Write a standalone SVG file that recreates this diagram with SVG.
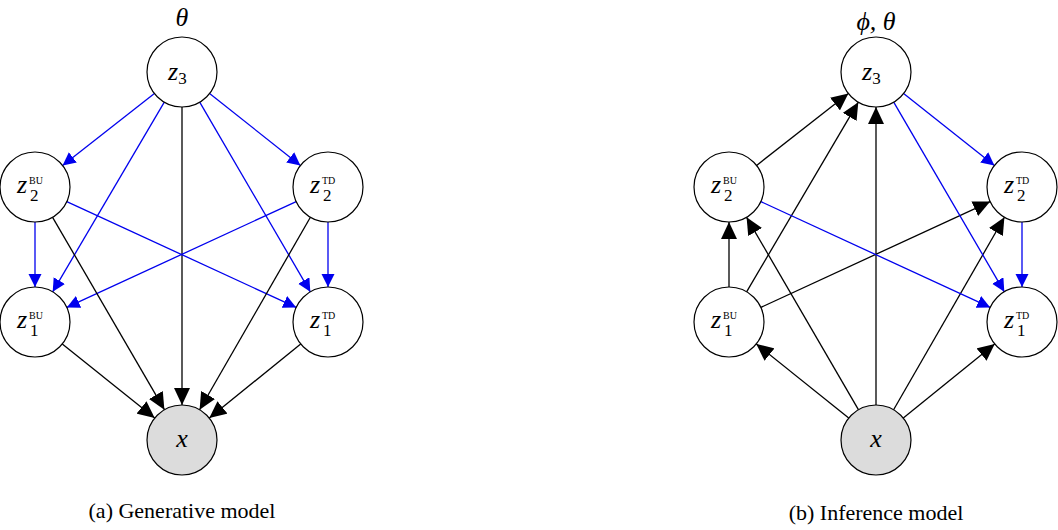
<svg xmlns="http://www.w3.org/2000/svg" width="1058" height="530" viewBox="0 0 1058 530">
<style>
.n{fill:#fff;stroke:#000;stroke-width:1.2}
.g{fill:#dcdcdc;stroke:#000;stroke-width:1.2}
.t{font-family:"Liberation Serif","DejaVu Serif",serif;font-style:italic;font-size:26px}
.s{font-family:"Liberation Serif",serif;font-size:17px;font-style:normal}
.u{font-family:"Liberation Serif",serif;font-size:10px;font-style:normal}
.cap{font-family:"Liberation Serif",serif;font-size:22px}
.k{stroke:#000;stroke-width:1.3;fill:none;marker-end:url(#ak)}
.b{stroke:#0000ee;stroke-width:1.3;fill:none;marker-end:url(#ab)}
</style>
<defs>
<marker id="ak" markerUnits="userSpaceOnUse" markerWidth="18" markerHeight="16" refX="17" refY="8" orient="auto"><path d="M0,0 L17,8 L0,16 z" fill="#000"/></marker>
<marker id="ab" markerUnits="userSpaceOnUse" markerWidth="14" markerHeight="14" refX="13" refY="6.5" orient="auto"><path d="M0,0 L13,6.5 L0,13 z" fill="#0000ee"/></marker>
</defs>
<g id="connectors">
<line class="b" x1="154.4" y1="93.6" x2="62.6" y2="165.4"/>
<line class="b" x1="209.6" y1="93.6" x2="300.4" y2="165.4"/>
<line class="b" x1="164.3" y1="102.2" x2="52.7" y2="291.8"/>
<line class="b" x1="199.7" y1="102.2" x2="310.3" y2="291.8"/>
<line class="k" x1="182" y1="107" x2="182" y2="405"/>
<line class="b" x1="35" y1="222" x2="35" y2="287"/>
<line class="b" x1="328" y1="222" x2="328" y2="287"/>
<line class="b" x1="66.8" y1="201.6" x2="296.2" y2="307.4"/>
<line class="b" x1="296.2" y1="201.6" x2="66.8" y2="307.4"/>
<line class="k" x1="52.6" y1="217.3" x2="164.4" y2="409.7"/>
<line class="k" x1="310.4" y1="217.3" x2="199.6" y2="409.7"/>
<line class="k" x1="62.3" y1="343.9" x2="154.7" y2="418.1"/>
<line class="k" x1="300.7" y1="343.9" x2="209.3" y2="418.1"/>
<line class="k" x1="848.7" y1="418.1" x2="756.3" y2="343.9"/>
<line class="k" x1="858.4" y1="409.7" x2="746.6" y2="217.3"/>
<line class="k" x1="876" y1="405" x2="876" y2="107"/>
<line class="k" x1="893.6" y1="409.7" x2="1004.4" y2="217.3"/>
<line class="k" x1="903.3" y1="418.1" x2="994.7" y2="343.9"/>
<line class="k" x1="729" y1="287" x2="729" y2="222"/>
<line class="k" x1="746.6" y1="291.8" x2="858.3" y2="102.2"/>
<line class="k" x1="760.8" y1="307.4" x2="990.2" y2="201.6"/>
<line class="k" x1="756.6" y1="165.4" x2="848.4" y2="93.6"/>
<line class="b" x1="903.6" y1="93.6" x2="994.4" y2="165.4"/>
<line class="b" x1="893.7" y1="102.2" x2="1004.3" y2="291.8"/>
<line class="b" x1="1022" y1="222" x2="1022" y2="287"/>
<line class="b" x1="760.8" y1="201.6" x2="990.2" y2="307.4"/>
</g>
<text class="t" x="182" y="26" text-anchor="middle">θ</text>
<text class="t" x="876" y="30" text-anchor="middle">ϕ, θ</text>
<g id="a_z3"><circle class="n" cx="182" cy="72" r="35"/><text class="t" x="168" y="80">z<tspan class="s" dy="4">3</tspan></text></g>
<g id="a_z2bu"><circle class="n" cx="35" cy="187" r="35"/><text class="t" x="17" y="193">z</text><text class="s" x="30" y="201">2</text><text class="u" x="29" y="184">BU</text></g>
<g id="a_z2td"><circle class="n" cx="328" cy="187" r="35"/><text class="t" x="310" y="193">z</text><text class="s" x="323" y="201">2</text><text class="u" x="322" y="184">TD</text></g>
<g id="a_z1bu"><circle class="n" cx="35" cy="322" r="35"/><text class="t" x="17" y="328">z</text><text class="s" x="30" y="336">1</text><text class="u" x="29" y="319">BU</text></g>
<g id="a_z1td"><circle class="n" cx="328" cy="322" r="35"/><text class="t" x="310" y="328">z</text><text class="s" x="323" y="336">1</text><text class="u" x="322" y="319">TD</text></g>
<g id="a_x"><circle class="g" cx="182" cy="440" r="35"/><text class="t" x="182" y="447" text-anchor="middle">x</text></g>
<g id="b_z3"><circle class="n" cx="876" cy="72" r="35"/><text class="t" x="862" y="80">z<tspan class="s" dy="4">3</tspan></text></g>
<g id="b_z2bu"><circle class="n" cx="729" cy="187" r="35"/><text class="t" x="711" y="193">z</text><text class="s" x="724" y="201">2</text><text class="u" x="723" y="184">BU</text></g>
<g id="b_z2td"><circle class="n" cx="1022" cy="187" r="35"/><text class="t" x="1004" y="193">z</text><text class="s" x="1017" y="201">2</text><text class="u" x="1016" y="184">TD</text></g>
<g id="b_z1bu"><circle class="n" cx="729" cy="322" r="35"/><text class="t" x="711" y="328">z</text><text class="s" x="724" y="336">1</text><text class="u" x="723" y="319">BU</text></g>
<g id="b_z1td"><circle class="n" cx="1022" cy="322" r="35"/><text class="t" x="1004" y="328">z</text><text class="s" x="1017" y="336">1</text><text class="u" x="1016" y="319">TD</text></g>
<g id="b_x"><circle class="g" cx="876" cy="440" r="35"/><text class="t" x="876" y="447" text-anchor="middle">x</text></g>
<text class="cap" x="182" y="518" text-anchor="middle">(a) Generative model</text>
<text class="cap" x="876" y="520" text-anchor="middle">(b) Inference model</text>
</svg>
